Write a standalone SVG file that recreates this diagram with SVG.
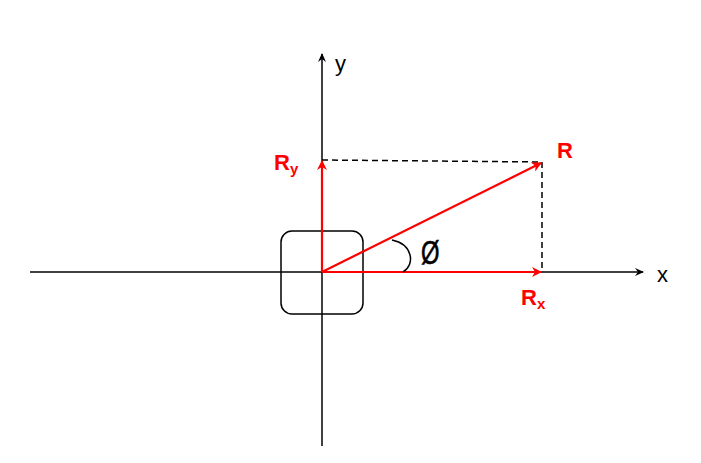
<svg xmlns="http://www.w3.org/2000/svg" width="701" height="463" viewBox="0 0 701 463">
<style>
.ax{stroke:#000;stroke-width:1.5;fill:none}
.red{stroke:#f00;stroke-width:2.2;fill:none}
.dash{stroke:#000;stroke-width:1.5;fill:none;stroke-dasharray:6 4}
.lbl{font-family:"Liberation Sans",Arial,sans-serif;font-weight:bold;fill:#f00}
.t{font-family:"Liberation Sans",Arial,sans-serif;font-size:22px;fill:#000}
</style>
<defs>
<marker id="ab" markerWidth="10" markerHeight="10" refX="8" refY="5" orient="auto" markerUnits="userSpaceOnUse"><path d="M0,1 L9,5 L0,9 L3,5 Z" fill="#000"/></marker>
<marker id="ar" markerWidth="12" markerHeight="12" refX="9" refY="6" orient="auto" markerUnits="userSpaceOnUse"><path d="M0,1 L10,6 L0,11 L3,6 Z" fill="#f00"/></marker>
</defs>
<rect width="701" height="463" fill="#fff"/>
<g id="axes">
<line class="ax" x1="30" y1="272" x2="643" y2="272" marker-end="url(#ab)"/>
<line class="ax" x1="322" y1="446" x2="322" y2="54" marker-end="url(#ab)"/>
<text class="t" x="335" y="71">y</text>
<text class="t" x="657" y="282">x</text>
</g>
<g id="body"><rect x="281" y="231" width="82" height="83" rx="11" fill="none" stroke="#000" stroke-width="1.5"/></g>
<g id="connectors">
<line class="dash" x1="322" y1="160" x2="542" y2="162"/>
<line class="dash" x1="542" y1="162" x2="542" y2="272"/>
<line class="red" x1="322" y1="272" x2="322" y2="161" marker-end="url(#ar)"/>
<line class="red" x1="322" y1="272" x2="541" y2="272" marker-end="url(#ar)"/>
<line class="red" x1="322" y1="272" x2="541" y2="163" marker-end="url(#ar)"/>
<path d="M392 240 C412 244 416 264 403 272" fill="none" stroke="#000" stroke-width="1.5"/>
</g>
<g id="labels">
<text class="lbl" x="274" y="170" font-size="22">R<tspan font-size="15" dy="4">y</tspan></text>
<text class="lbl" x="557" y="158" font-size="22">R</text>
<text class="lbl" x="521" y="305" font-size="22">R<tspan font-size="15" dy="4">x</tspan></text>
<text transform="translate(421,264) scale(0.72,1)" font-family="Liberation Sans,Arial,sans-serif" font-size="33" stroke="#000" stroke-width="0.6" fill="#000">Ø</text>
</g>
</svg>
